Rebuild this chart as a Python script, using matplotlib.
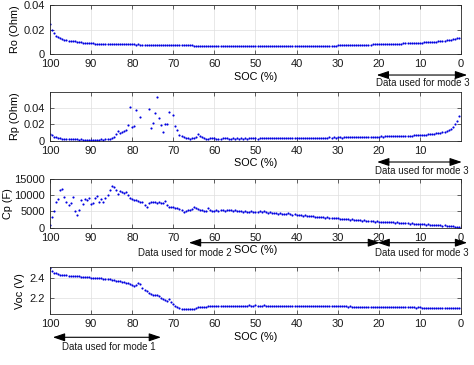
import numpy as np
from matplotlib import pyplot as plt
from matplotlib.ticker import FuncFormatter

plt.rcParams['font.family'] = ['Liberation Sans', 'DejaVu Sans']
plt.rcParams['font.size'] = 7.8

nan = np.nan
# state of charge, one point every 0.5 %
soc = np.arange(100, 0, -0.5)

ro = [0.0243, 0.0195, 0.0170, 0.0150, 0.0138, 0.0130, 0.0124, 0.0119, 0.0115, 0.0112,
      0.0109, 0.0106, 0.0104, 0.0101, 0.0099, 0.0097, 0.0095, 0.0093, 0.0092, 0.0090,
      0.0089, 0.0088, 0.0087, 0.0086, 0.0085, 0.0085, 0.0084, 0.0083, 0.0083, 0.0082,
      0.0082, 0.0082, 0.0081, 0.0081, 0.0081, 0.0080, 0.0081, 0.0080, 0.0080, 0.0081,
      0.0080, 0.0080, 0.0079, 0.0080, 0.0079, 0.0079, 0.0079, 0.0078, 0.0079, 0.0078,
      0.0078, 0.0078, 0.0077, 0.0078, 0.0077, 0.0077, 0.0077, 0.0076, 0.0077, 0.0076,
      0.0076, 0.0076, 0.0075, 0.0075, 0.0074, 0.0074, 0.0073, 0.0073, 0.0072, 0.0072,
      0.0071, 0.0071, 0.0070, 0.0070, 0.0070, 0.0069, 0.0069, 0.0069, 0.0068, 0.0068,
      0.0068, 0.0068, 0.0067, 0.0068, 0.0067, 0.0067, 0.0067, 0.0066, 0.0067, 0.0066,
      0.0066, 0.0066, 0.0066, 0.0065, 0.0066, 0.0065, 0.0065, 0.0065, 0.0065, 0.0064,
      0.0065, 0.0064, 0.0065, 0.0064, 0.0064, 0.0064, 0.0064, 0.0065, 0.0064, 0.0064,
      0.0064, 0.0064, 0.0065, 0.0064, 0.0065, 0.0065, 0.0065, 0.0065, 0.0066, 0.0065,
      0.0066, 0.0066, 0.0066, 0.0066, 0.0067, 0.0067, 0.0067, 0.0067, 0.0068, 0.0068,
      0.0068, 0.0069, 0.0069, 0.0069, 0.0070, 0.0070, 0.0070, 0.0071, 0.0071, 0.0071,
      0.0072, 0.0072, 0.0073, 0.0073, 0.0073, 0.0074, 0.0074, 0.0075, 0.0075, 0.0076,
      0.0076, 0.0077, 0.0077, 0.0078, 0.0078, 0.0079, 0.0079, 0.0080, 0.0080, 0.0081,
      0.0081, 0.0082, 0.0082, 0.0083, 0.0083, 0.0084, 0.0085, 0.0085, 0.0086, 0.0086,
      0.0087, 0.0087, 0.0088, 0.0089, 0.0089, 0.0090, 0.0091, 0.0091, 0.0092, 0.0093,
      0.0094, 0.0095, 0.0096, 0.0097, 0.0098, 0.0099, 0.0100, 0.0101, 0.0103, 0.0104,
      0.0106, 0.0108, 0.0110, 0.0113, 0.0116, 0.0119, 0.0122, 0.0126, 0.0129, 0.0131]

rp = [0.0085, 0.0066, 0.0050, 0.0042, 0.0035, 0.0030, 0.0025, 0.0022, 0.0020, 0.0018,
      0.0017, 0.0016, 0.0015, 0.0015, 0.0014, 0.0015, 0.0013, 0.0014, 0.0013, 0.0014,
      0.0013, 0.0014, 0.0013, 0.0014, 0.0013, 0.0015, 0.0014, 0.0016, 0.0018, 0.0022,
      0.0030, 0.0050, 0.0082, 0.0123, 0.0095, 0.0105, 0.0120, 0.0125, 0.0197, 0.0410,
      0.0165, 0.0180, 0.0375, nan, 0.0290, nan, nan, nan, 0.0390, 0.0155,
      0.0215, 0.0335, 0.0530, 0.0275, 0.0190, 0.0105, 0.0200, 0.0200, 0.0355, nan,
      0.0315, 0.0175, 0.0130, 0.0070, 0.0055, 0.0040, 0.0032, 0.0028, 0.0025, 0.0027,
      0.0030, 0.0050, 0.0080, 0.0060, 0.0040, 0.0030, 0.0025, 0.0025, 0.0030, 0.0035,
      0.0028, 0.0025, 0.0024, 0.0026, 0.0030, 0.0035, 0.0029, 0.0025, 0.0024, 0.0027,
      0.0025, 0.0030, 0.0024, 0.0028, 0.0026, 0.0031, 0.0025, 0.0029, 0.0027, 0.0030,
      0.0028, 0.0026, 0.0031, 0.0027, 0.0030, 0.0028, 0.0033, 0.0029, 0.0031, 0.0028,
      0.0032, 0.0030, 0.0034, 0.0031, 0.0033, 0.0030, 0.0034, 0.0032, 0.0035, 0.0031,
      0.0034, 0.0036, 0.0032, 0.0035, 0.0033, 0.0037, 0.0034, 0.0036, 0.0033, 0.0037,
      0.0035, 0.0038, 0.0036, 0.0039, 0.0035, 0.0038, 0.0040, 0.0037, 0.0041, 0.0038,
      0.0040, 0.0042, 0.0039, 0.0043, 0.0041, 0.0044, 0.0042, 0.0045, 0.0043, 0.0046,
      0.0044, 0.0047, 0.0045, 0.0048, 0.0046, 0.0049, 0.0047, 0.0050, 0.0048, 0.0051,
      0.0050, 0.0052, 0.0050, 0.0053, 0.0052, 0.0055, 0.0053, 0.0056, 0.0055, 0.0058,
      0.0057, 0.0059, 0.0058, 0.0061, 0.0060, 0.0063, 0.0062, 0.0065, 0.0066, 0.0068,
      0.0070, 0.0071, 0.0073, 0.0075, 0.0077, 0.0080, 0.0083, 0.0086, 0.0090, 0.0094,
      0.0098, 0.0104, 0.0110, 0.0120, 0.0130, 0.0145, 0.0165, 0.0200, 0.0245, 0.0305]

cp = [900, 3200, 5000, 7800, 8800, 11600, 12000, 9600, 8000, 7000,
      7500, 9600, 5000, 3800, 5600, 8600, 7300, 8800, 8500, 9000,
      7200, 7500, 9000, 9900, 8000, 8700, 8000, 9000, 10000, 11600,
      12950, 12400, 11600, 10300, 11300, 10900, 10600, 11100, 10000, 9000,
      8700, 8500, 8500, 8200, 8000, 7800, 7000, 6500, 7500, 8000,
      7900, 8000, 7500, 7800, 7500, 7700, 8100, 7000, 6500, 6500,
      6500, 6200, 6000, 5700, 5500, 4800, 5000, 5500, 5600, 5800,
      6500, 6000, 5700, 5300, 5400, 5200, 5100, 6000, 5600, 5200,
      5000, 5300, 5100, 5400, 5500, 5200, 5300, 5600, 5400, 5200,
      5300, 5100, 5000, 5200, 4900, 5000, 4800, 4900, 5000, 4800,
      4700, 4900, 5000, 4800, 5100, 4900, 4600, 4700, 4500, 4600,
      4400, 4300, 4500, 4200, 4300, 4100, 4400, 4200, 4000, 4100,
      3900, 4000, 3800, 3700, 3900, 3600, 3700, 3500, 3600, 3400,
      3300, 3400, 3200, 3300, 3100, 3200, 3000, 3100, 3000, 2900,
      2900, 2800, 2700, 2800, 2600, 2700, 2500, 2600, 2500, 2400,
      2300, 2400, 2200, 2300, 2100, 2200, 2000, 2100, 1900, 2000,
      1900, 1800, 1900, 1700, 1800, 1700, 1600, 1700, 1500, 1600,
      1400, 1500, 1400, 1300, 1400, 1200, 1300, 1200, 1100, 1200,
      1000, 1100, 1000, 900, 1000, 800, 900, 800, 700, 800,
      700, 600, 700, 600, 500, 500, 400, 300, 300, 200]

voc = [2.500, 2.468, 2.450, 2.442, 2.436, 2.431, 2.428, 2.425, 2.423, 2.421,
       2.419, 2.417, 2.416, 2.414, 2.412, 2.411, 2.409, 2.407, 2.405, 2.403,
       2.401, 2.400, 2.398, 2.396, 2.394, 2.392, 2.390, 2.388, 2.385, 2.382,
       2.378, 2.375, 2.371, 2.368, 2.364, 2.360, 2.356, 2.350, 2.344, 2.336,
       2.322, 2.318, 2.330, 2.345, 2.332, 2.300, 2.278, 2.262, 2.248, 2.238,
       2.230, 2.227, 2.224, 2.215, 2.200, 2.190, 2.178, 2.170, 2.185, 2.160,
       2.140, 2.120, 2.105, 2.096, 2.092, 2.090, 2.089, 2.089, 2.090, 2.090,
       2.092, 2.098, 2.104, 2.108, 2.110, 2.110, 2.112, 2.113, 2.114, 2.115,
       2.116, 2.117, 2.116, 2.118, 2.117, 2.118, 2.119, 2.118, 2.119, 2.120,
       2.120, 2.121, 2.120, 2.122, 2.121, 2.122, 2.121, 2.123, 2.122, 2.122,
       2.123, 2.122, 2.122, 2.121, 2.123, 2.122, 2.121, 2.122, 2.121, 2.121,
       2.122, 2.121, 2.120, 2.121, 2.120, 2.121, 2.120, 2.119, 2.120, 2.119,
       2.120, 2.119, 2.118, 2.119, 2.118, 2.119, 2.117, 2.118, 2.117, 2.118,
       2.117, 2.116, 2.117, 2.116, 2.115, 2.116, 2.115, 2.116, 2.114, 2.115,
       2.115, 2.114, 2.113, 2.114, 2.113, 2.112, 2.113, 2.112, 2.111, 2.112,
       2.111, 2.112, 2.110, 2.111, 2.110, 2.109, 2.110, 2.109, 2.108, 2.109,
       2.109, 2.108, 2.107, 2.108, 2.107, 2.106, 2.107, 2.106, 2.105, 2.106,
       2.105, 2.106, 2.104, 2.105, 2.104, 2.103, 2.104, 2.103, 2.102, 2.103,
       2.103, 2.102, 2.101, 2.102, 2.101, 2.100, 2.101, 2.100, 2.099, 2.100,
       2.099, 2.098, 2.099, 2.097, 2.098, 2.096, 2.097, 2.095, 2.096, 2.094]

xticks = [100, 90, 80, 70, 60, 50, 40, 30, 20, 10, 0]
xticks_rp = [100, 90, 80, 70, 60, 50, 40, 30, 20, 10]

panels = [
    (ro, 'Ro (Ohm)', (0, 0.04), [0, 0.02, 0.04], xticks, -0.073, [0.1055, 0.8512, 0.867, 0.1351]),
    (rp, 'Rp (Ohm)', (0, 0.0595), [0, 0.02, 0.04], xticks_rp, -0.073, [0.1055, 0.6145, 0.867, 0.1335]),
    (cp, 'Cp (F)', (0, 15000), [0, 5000, 10000, 15000], xticks, -0.089, [0.1055, 0.3762, 0.867, 0.1334]),
    (voc, 'Voc (V)', (2.034, 2.507), [2.2, 2.4], xticks, -0.061, [0.1055, 0.1389, 0.867, 0.1296]),
]

fig = plt.figure(figsize=(4.74, 3.65), dpi=100)
axes = []
for vals, ylab, ylim, yt, xt, ylx, pos in panels:
    ax = fig.add_axes(pos)
    ax.plot(soc, vals, '.', color='#0000e0', ms=3.1, mew=0)
    ax.set_xlim(100, 0)
    ax.set_ylim(*ylim)
    ax.set_xticks(xt)
    ax.set_yticks(yt)
    ax.yaxis.set_major_formatter(FuncFormatter(lambda v, p: '{:g}'.format(v)))
    ax.grid(True, color='#dedede', lw=0.5)
    ax.set_axisbelow(True)
    ax.tick_params(direction='in', length=3, width=0.5, top=True, right=True,
                   colors='#262626', labelcolor='#1a1a1a', labelsize=8)
    for s in ax.spines.values():
        s.set_color('#262626')
        s.set_linewidth(0.6)
    ax.set_xlabel('SOC (%)', labelpad=2.0)
    ax.set_ylabel(ylab)
    ax.yaxis.set_label_coords(ylx, 0.5)
    axes.append(ax)

arrow_kw = dict(arrowstyle='<|-|>,head_length=0.8,head_width=0.27', mutation_scale=9,
                lw=0.8, color='black', shrinkA=0, shrinkB=0)


def mode_arrow(ax, x0, x1, y_arrow, x_text, y_text, label):
    tr = ax.get_xaxis_transform()
    ax.annotate('', xy=(x1, y_arrow), xytext=(x0, y_arrow), xycoords=tr, textcoords=tr,
                arrowprops=arrow_kw, annotation_clip=False)
    ax.text(x_text, y_text, label, transform=tr, ha='center', va='center',
            fontsize=7, color='#1a1a1a')


mode_arrow(axes[0], 20.5, -1.5, -0.42, 9.3, -0.585, 'Data used for mode 3')
mode_arrow(axes[1], 20.4, -0.2, -0.437, 9.5, -0.62, 'Data used for mode 3')
mode_arrow(axes[2], 66.2, 19.7, -0.308, 67.2, -0.51, 'Data used for mode 2')
mode_arrow(axes[2], 20.3, -1.5, -0.308, 9.6, -0.51, 'Data used for mode 3')
mode_arrow(axes[3], 99.3, 73.0, -0.486, 85.8, -0.685, 'Data used for mode 1')

plt.savefig('out.png', dpi=100)
